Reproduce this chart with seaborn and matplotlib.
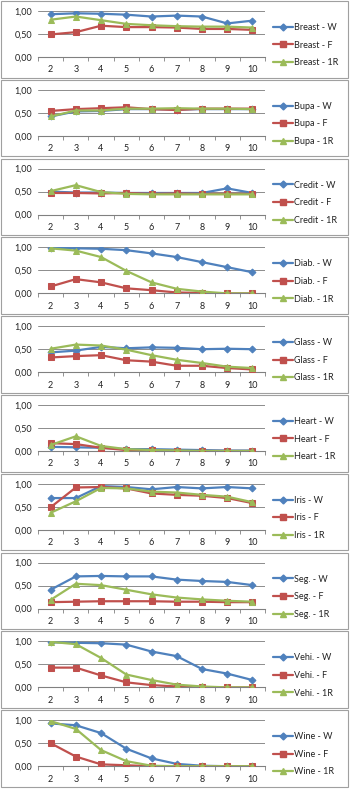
import numpy as np
import pandas as pd
import matplotlib
matplotlib.use('Agg')
import matplotlib.pyplot as plt
import seaborn as sns
from matplotlib.patches import Rectangle
from matplotlib.ticker import FuncFormatter, FixedLocator
from matplotlib.lines import Line2D

sns.set_style('white')
plt.rcParams['font.family'] = ['Lato', 'DejaVu Sans']

# number of intervals on the x axis
k_values = [2, 3, 4, 5, 6, 7, 8, 9, 10]

datasets = ['Breast', 'Bupa', 'Credit', 'Diab.', 'Glass', 'Heart', 'Iris', 'Seg.', 'Vehi.', 'Wine']

w_values = [
    [0.93, 0.95, 0.94, 0.92, 0.88, 0.90, 0.88, 0.73, 0.79],
    [0.42, 0.53, 0.54, 0.58, 0.58, 0.57, 0.58, 0.58, 0.58],
    [0.50, 0.48, 0.48, 0.47, 0.47, 0.47, 0.47, 0.57, 0.47],
    [0.99, 0.98, 0.97, 0.94, 0.87, 0.79, 0.68, 0.57, 0.46],
    [0.43, 0.47, 0.55, 0.52, 0.54, 0.53, 0.50, 0.51, 0.50],
    [0.09, 0.08, 0.07, 0.04, 0.04, 0.03, 0.02, 0.01, 0.01],
    [0.69, 0.69, 0.95, 0.93, 0.88, 0.93, 0.90, 0.93, 0.90],
    [0.41, 0.70, 0.71, 0.70, 0.70, 0.63, 0.60, 0.58, 0.51],
    [0.98, 0.97, 0.96, 0.93, 0.78, 0.68, 0.40, 0.30, 0.16],
    [0.93, 0.89, 0.72, 0.38, 0.17, 0.05, 0.01, 0.00, 0.00],
]
f_values = [
    [0.49, 0.54, 0.68, 0.65, 0.65, 0.64, 0.61, 0.61, 0.59],
    [0.54, 0.58, 0.60, 0.62, 0.58, 0.56, 0.59, 0.59, 0.59],
    [0.47, 0.47, 0.46, 0.47, 0.45, 0.46, 0.45, 0.45, 0.45],
    [0.15, 0.31, 0.24, 0.11, 0.07, 0.02, 0.01, 0.00, 0.00],
    [0.32, 0.35, 0.37, 0.26, 0.23, 0.14, 0.14, 0.09, 0.06],
    [0.17, 0.15, 0.07, 0.02, 0.02, 0.00, 0.00, 0.00, 0.00],
    [0.49, 0.92, 0.93, 0.90, 0.79, 0.76, 0.74, 0.69, 0.58],
    [0.14, 0.15, 0.16, 0.16, 0.16, 0.15, 0.15, 0.14, 0.14],
    [0.43, 0.43, 0.26, 0.11, 0.05, 0.02, 0.00, 0.00, 0.00],
    [0.50, 0.21, 0.04, 0.02, 0.00, 0.00, 0.00, 0.00, 0.00],
]
r_values = [
    [0.81, 0.88, 0.80, 0.72, 0.69, 0.67, 0.66, 0.66, 0.64],
    [0.42, 0.55, 0.55, 0.59, 0.59, 0.60, 0.59, 0.59, 0.58],
    [0.51, 0.64, 0.49, 0.45, 0.44, 0.44, 0.44, 0.44, 0.44],
    [0.98, 0.93, 0.79, 0.49, 0.24, 0.10, 0.04, 0.00, 0.00],
    [0.51, 0.60, 0.58, 0.49, 0.37, 0.27, 0.20, 0.12, 0.09],
    [0.13, 0.32, 0.11, 0.04, 0.02, 0.01, 0.00, 0.00, 0.00],
    [0.37, 0.62, 0.91, 0.90, 0.83, 0.81, 0.76, 0.72, 0.60],
    [0.19, 0.54, 0.51, 0.41, 0.31, 0.24, 0.20, 0.17, 0.15],
    [0.99, 0.94, 0.64, 0.28, 0.16, 0.06, 0.02, 0.00, 0.00],
    [0.98, 0.81, 0.35, 0.11, 0.01, 0.00, 0.00, 0.00, 0.00],
]

suffixes = ['W', 'F', '1R']
colors = ['#4F81BD', '#C0504D', '#9BBB59']
markers = ['D', 's', '^']
msizes = [3.5, 5, 5]

W, H = 350, 793
fig = plt.figure(figsize=(W / 100, H / 100), dpi=100)
pitch = 78.8

for i, name in enumerate(datasets):
    top = i * pitch
    # chart frame
    fig.add_artist(Rectangle((1 / W, 1 - (top + 77.5) / H), 347 / W, 76.5 / H,
                             transform=fig.transFigure, fill=False,
                             edgecolor='#A0A0A0', linewidth=0.8))
    ax = fig.add_axes([38 / W, 1 - (top + 57) / H, 227 / W, 46 / H])

    rows = []
    for s, vals in zip(suffixes, [w_values[i], f_values[i], r_values[i]]):
        for k, v in zip(k_values, vals):
            rows.append({'k': k, 'value': v, 'series': f'{name} - {s}'})
    df = pd.DataFrame(rows)
    labels = [f'{name} - {s}' for s in suffixes]

    for lab, c, m, ms in zip(labels, colors, markers, msizes):
        sub = df[df['series'] == lab]
        sns.lineplot(data=sub, x='k', y='value', ax=ax, color=c, marker=m,
                     markersize=ms, markeredgecolor=c, linewidth=1.6,
                     legend=False)

    ax.set_xlim(1.5, 10.5)
    ax.set_ylim(0, 1)
    ax.set_xlabel('')
    ax.set_ylabel('')
    ax.set_xticks(k_values)
    ax.set_xticklabels([str(k) for k in k_values])
    ax.xaxis.set_minor_locator(FixedLocator(np.arange(1.5, 11, 1)))
    ax.tick_params(axis='x', which='major', length=0, labelsize=6.5,
                   pad=6, colors='#222222')
    ax.tick_params(axis='x', which='minor', length=3, width=0.6,
                   color='#808080', bottom=True)
    ax.set_yticks([0, 0.5, 1.0])
    ax.yaxis.set_major_formatter(FuncFormatter(lambda v, p: f'{v:.2f}'.replace('.', ',')))
    ax.tick_params(axis='y', length=0, labelsize=6.5, pad=4, colors='#222222')
    ax.grid(axis='y', color='#8C8C8C', linewidth=0.7)
    ax.set_axisbelow(True)
    for side in ['top', 'right', 'left']:
        ax.spines[side].set_visible(False)
    ax.spines['bottom'].set_color('#808080')
    ax.spines['bottom'].set_linewidth(0.8)
    ax.spines['bottom'].set_zorder(0.5)

    handles = [Line2D([0], [0], color=c, marker=m, markersize=ms,
                      linewidth=1.6, markeredgecolor=c)
               for c, m, ms in zip(colors, markers, msizes)]
    leg = ax.legend(handles, labels, loc='upper left',
                    bbox_to_anchor=(273 / W, 1 - (top + 23) / H),
                    bbox_transform=fig.transFigure, frameon=False,
                    fontsize=6.5, handlelength=2.2, handletextpad=0.1,
                    labelspacing=0.95, borderaxespad=0, borderpad=0)
    for t in leg.get_texts():
        t.set_color('#222222')

fig.savefig('out.png', dpi=100)
